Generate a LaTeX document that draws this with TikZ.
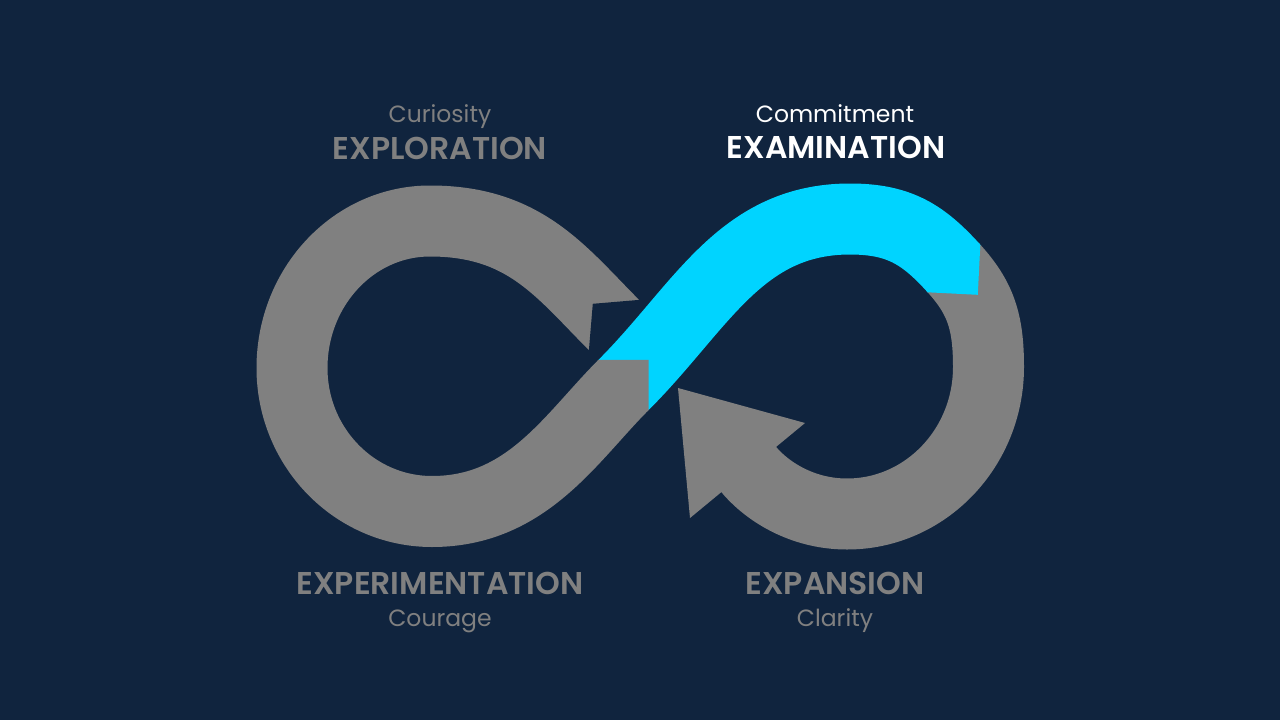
\documentclass[tikz,border=0pt]{standalone}
\usepackage{fontspec}
\setmainfont{Poppins}
\newfontfamily\semib{Poppins}[UprightFont={* SemiBold}]
\definecolor{bg}{RGB}{16,36,62}
\definecolor{band}{RGB}{128,128,128}
\definecolor{hi}{RGB}{0,212,255}
\begin{document}
\begin{tikzpicture}[x=1pt,y=-1pt,
  bandline/.style={line width=71pt, line cap=butt, line join=round},
  head/.style={font=\fontsize{31.5}{34}\selectfont\semib, text=band, inner sep=0pt, anchor=base},
  sub/.style={font=\fontsize{23.5}{28}\selectfont, text=band, inner sep=0pt, anchor=base}]
\fill[bg] (0,0) rectangle (1280,720);
\useasboundingbox (0,0) rectangle (1280,720);

% left loop (grey)
\draw[bandline, draw=band] (614,325) .. controls (561,272) and (525,221) .. (430,221)
  .. controls (353.8,221) and (292,286.8) .. (292,368)
  .. controls (292,447.3) and (354.7,511.5) .. (432,511.5)
  .. controls (527,511.5) and (570.5,438) .. (623.5,385);
% tail notch of left loop
\fill[bg] (639.1,299.9) -- (592.8,303.8) -- (588.9,350.1) -- (591.0,352.2) -- (641.2,302.0) -- cycle;

% cyan segment
\draw[bandline, draw=hi] (623.5,385) .. controls (701.3,307.2) and (740,219) .. (850,219)
  .. controls (900,219) and (923.8,235.2) .. (954,268.5);

% right loop (grey)
\draw[bandline, draw=band] (954,268.5) .. controls (980.8,298.1) and (988.5,322) .. (988.5,367)
  .. controls (988.5,448.2) and (925.1,514) .. (847,514)
  .. controls (802,514) and (766.5,491.3) .. (747.6,468.2);

% cyan point into the right grey band
\fill[hi] (979.0,243.2) -- (980.3,244.7) -- (977.8,294.8) -- (927.7,292.3) -- (926.4,290.8) -- cycle;
% grey point into the cyan band
\fill[band] (597.0,361.3) -- (598.4,359.9) -- (648.6,359.9) -- (648.6,410.1) -- (647.2,411.5) -- cycle;
% arrowhead
\fill[band] (678,388) -- (805,423) -- (690,518) -- cycle;

% labels
\node[sub] (curiosity) at (440,122) {Curiosity};
\node[head] (exploration) at (440,159) {EXPLORATION};
\node[sub, text=white] (commitment) at (835,122) {Commitment};
\node[head, text=white] (examination) at (836,158) {EXAMINATION};
\node[head] (experimentation) at (440,594) {EXPERIMENTATION};
\node[sub] (courage) at (440,626) {Courage};
\node[head] (expansion) at (835,594) {EXPANSION};
\node[sub] (clarity) at (835,626) {Clarity};
\end{tikzpicture}
\end{document}
